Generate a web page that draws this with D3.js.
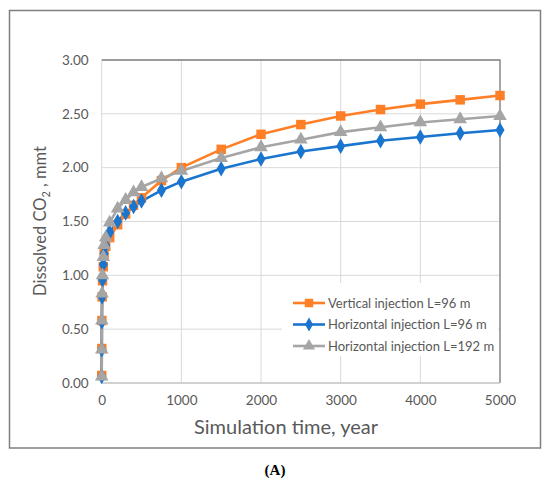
<!DOCTYPE html>
<html>
<head>
<meta charset="utf-8">
<script src="https://cdn.jsdelivr.net/npm/d3@7"></script>
<style>
  body { margin: 0; background: #fff; }
  svg text { font-family: Lato, "Open Sans", sans-serif; }
</style>
</head>
<body>
<svg id="chart" width="550" height="486"></svg>
<script>
// simulation times (years)
const times = [0, 1, 2, 5, 10, 20, 30, 50, 100, 200, 300, 400, 500, 750, 1000, 1500, 2000, 2500, 3000, 3500, 4000, 4500, 5000];
const verticalL96 = [0.07, 0.32, 0.58, 0.80, 0.95, 1.08, 1.20, 1.27, 1.35, 1.47, 1.57, 1.65, 1.72, 1.88, 2.00, 2.17, 2.31, 2.40, 2.48, 2.54, 2.59, 2.63, 2.67];
const horizontalL96 = [0.06, 0.31, 0.57, 0.80, 0.96, 1.10, 1.20, 1.28, 1.40, 1.50, 1.58, 1.64, 1.69, 1.79, 1.87, 1.99, 2.08, 2.15, 2.20, 2.25, 2.285, 2.32, 2.35];
const horizontalL192 = [0.06, 0.31, 0.58, 0.83, 1.00, 1.17, 1.28, 1.35, 1.49, 1.62, 1.70, 1.77, 1.82, 1.90, 1.97, 2.09, 2.19, 2.26, 2.33, 2.375, 2.42, 2.45, 2.48];
const seriesNames = ["Vertical injection L=96 m", "Horizontal injection L=96 m", "Horizontal injection L=192 m"];
const xTicks = [0, 1000, 2000, 3000, 4000, 5000];
const yTicks = [0, 0.5, 1, 1.5, 2, 2.5, 3];

const series = [
  { name: seriesNames[0], values: verticalL96, color: "#FF7F27", symbol: d3.symbolSquare, size: 90 },
  { name: seriesNames[1], values: horizontalL96, color: "#1A75CF", symbol: d3.symbolDiamond, size: 70 },
  { name: seriesNames[2], values: horizontalL192, color: "#A5A5A5", symbol: d3.symbolTriangle, size: 80 }
];

const svg = d3.select("#chart");
const pLeft = 101.7, pRight = 500, pTop = 60, pBottom = 383;

const x = d3.scaleLinear().domain([0, 5000]).range([pLeft, pRight]);
const y = d3.scaleLinear().domain([0, 3]).range([pBottom, pTop]);

// outer frame
svg.append("rect")
  .attr("x", 9.5).attr("y", 10.5).attr("width", 531).attr("height", 437.5)
  .attr("fill", "none").attr("stroke", "#7f7f7f").attr("stroke-width", 1.5);

// gridlines
svg.append("g").selectAll("line").data(yTicks)
  .join("line")
  .attr("x1", pLeft).attr("x2", pRight)
  .attr("y1", d => y(d)).attr("y2", d => y(d))
  .attr("stroke", "#d9d9d9").attr("stroke-width", 1);
svg.append("g").selectAll("line").data(xTicks)
  .join("line")
  .attr("x1", d => x(d)).attr("x2", d => x(d))
  .attr("y1", pTop).attr("y2", pBottom)
  .attr("stroke", "#d9d9d9").attr("stroke-width", 1);

// plot border top/right
svg.append("path")
  .attr("d", `M${pLeft},${pTop}H${pRight}V${pBottom}`)
  .attr("fill", "none").attr("stroke", "#808080").attr("stroke-width", 1.3);
svg.append("line")
  .attr("x1", pLeft).attr("x2", pRight).attr("y1", pBottom).attr("y2", pBottom)
  .attr("stroke", "#c8c8c8").attr("stroke-width", 1.3);

// axes
const yAxis = d3.axisLeft(y).tickValues(yTicks).tickFormat(d3.format(".2f")).tickSize(0).tickPadding(13);
const gy = svg.append("g").attr("transform", `translate(${pLeft},0)`).call(yAxis);
const xAxis = d3.axisBottom(x).tickValues(xTicks).tickFormat(d3.format("d")).tickSize(0).tickPadding(12);
const gx = svg.append("g").attr("transform", `translate(0,${pBottom})`).call(xAxis);
[gx, gy].forEach(g => {
  g.select(".domain").remove();
  g.selectAll("text").attr("fill", "#595959").style("font-size", "13.5px");
});

// series
const line = d3.line().x((d, i) => x(times[i])).y(d => y(d));
series.forEach(s => {
  svg.append("path")
    .attr("d", line(s.values))
    .attr("fill", "none").attr("stroke", s.color).attr("stroke-width", 2.6)
    .attr("stroke-linejoin", "round");
});
series.forEach(s => {
  const sym = d3.symbol().type(s.symbol).size(s.size);
  svg.append("g").selectAll("path").data(s.values)
    .join("path")
    .attr("transform", (d, i) => `translate(${x(times[i])},${y(d)})`)
    .attr("d", sym())
    .attr("fill", s.color);
});

// legend
const leg = svg.append("g");
leg.append("rect")
  .attr("x", 282).attr("y", 283).attr("width", 216).attr("height", 73)
  .attr("fill", "#fff");
series.forEach((s, i) => {
  const cy = 303 + i * 21.5;
  leg.append("line")
    .attr("x1", 293).attr("x2", 325).attr("y1", cy).attr("y2", cy)
    .attr("stroke", s.color).attr("stroke-width", 2.6);
  leg.append("path")
    .attr("transform", `translate(309,${cy})`)
    .attr("d", d3.symbol().type(s.symbol).size(s.size * 0.8)())
    .attr("fill", s.color);
  leg.append("text")
    .attr("x", 328).attr("y", cy).attr("dy", "0.35em")
    .attr("fill", "#595959").style("font-size", "13px")
    .text(s.name);
});

// axis titles
svg.append("text")
  .attr("x", 286).attr("y", 427).attr("dy", "0.35em")
  .attr("text-anchor", "middle").attr("fill", "#595959")
  .style("font-size", "20px")
  .text("Simulation time, year");

const yt = svg.append("text")
  .attr("transform", "translate(40,221) rotate(-90)")
  .attr("text-anchor", "middle").attr("dy", "0.35em")
  .attr("fill", "#595959").style("font-size", "16.5px");
yt.append("tspan").text("Dissolved CO");
yt.append("tspan").attr("dy", "4").style("font-size", "11px").text("2");
yt.append("tspan").attr("dy", "-4").text(" , mmt");

svg.append("text")
  .attr("x", 275).attr("y", 470).attr("dy", "0.35em")
  .attr("text-anchor", "middle")
  .style("font-family", "'Liberation Serif', 'DejaVu Serif', serif")
  .style("font-weight", "bold").style("font-size", "15px")
  .text("(A)");
</script>
</body>
</html>
